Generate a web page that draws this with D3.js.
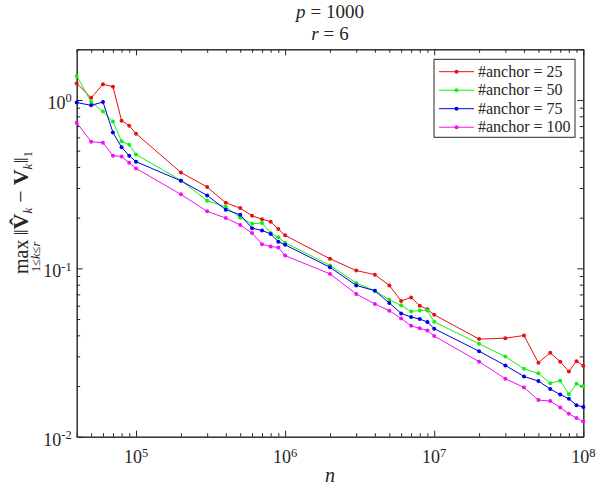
<!DOCTYPE html>
<html>
<head>
<meta charset="utf-8">
<script src="https://cdn.jsdelivr.net/npm/d3@7"></script>
<style>
body { margin: 0; background: #fff; }
svg text { font-family: "Liberation Serif", "Times New Roman", Tinos, "DejaVu Serif", serif; fill: #262626; }
.eje path, .eje line { stroke: #262626; stroke-width: 1; }
</style>
</head>
<body>
<div id="grafica"></div>
<script>
// n (tamaño de muestra)
var nValues = [4e4, 5e4, 6e4, 7e4, 8e4, 9e4,
	1e5, 2e5, 3e5, 4e5, 5e5, 6e5, 7e5, 8e5, 9e5,
	1e6, 2e6, 3e6, 4e6, 5e6, 6e6, 7e6, 8e6, 9e6,
	1e7, 2e7, 3e7, 4e7, 5e7, 6e7, 7e7, 8e7, 9e7, 1e8];

var anchor25 = [1.256, 1.03, 1.24, 1.20, 0.754, 0.704,
	0.631, 0.371, 0.304, 0.245, 0.228, 0.205, 0.196, 0.189, 0.171,
	0.157, 0.114, 0.097, 0.0917, 0.0792, 0.064, 0.0672, 0.060, 0.0571,
	0.053, 0.038, 0.0385, 0.0399, 0.0275, 0.0315, 0.0279, 0.0244, 0.0281, 0.0264];

var anchor50 = [1.39, 0.973, 0.853, 0.744, 0.568, 0.543,
	0.475, 0.333, 0.252, 0.232, 0.200, 0.184, 0.186, 0.162, 0.153,
	0.142, 0.104, 0.0818, 0.0736, 0.0651, 0.0603, 0.0555, 0.0562, 0.0562,
	0.0481, 0.0356, 0.0299, 0.0253, 0.0238, 0.0208, 0.0215, 0.0179, 0.0206, 0.0199];

var anchor75 = [0.966, 0.929, 0.973, 0.642, 0.523, 0.467,
	0.430, 0.331, 0.271, 0.223, 0.208, 0.173, 0.168, 0.160, 0.144,
	0.138, 0.1014, 0.0792, 0.0736, 0.0622, 0.054, 0.0514, 0.050, 0.048,
	0.0438, 0.0322, 0.0265, 0.0228, 0.0214, 0.0192, 0.0178, 0.0168, 0.0154, 0.015];

var anchor100 = [0.733, 0.565, 0.557, 0.467, 0.462, 0.424,
	0.392, 0.275, 0.218, 0.199, 0.181, 0.162, 0.139, 0.135, 0.133,
	0.119, 0.0927, 0.0704, 0.0614, 0.056, 0.0504, 0.0456, 0.044, 0.0428,
	0.0396, 0.0279, 0.0221, 0.0196, 0.0165, 0.0163, 0.0149, 0.0137, 0.0129, 0.0123];

var nombres = ['#anchor = 25', '#anchor = 50', '#anchor = 75', '#anchor = 100'];
var colores = ['#e81010', '#10f010', '#0000e8', '#f010f0'];
var xTickExp = [5, 6, 7, 8];
var yTickExp = [-2, -1, 0];

var series = [anchor25, anchor50, anchor75, anchor100].map(function(vals, i) {
	return {
		nombre: nombres[i],
		color: colores[i],
		puntos: vals.map(function(v, j) { return {n: nValues[j], v: v}; })
	};
});

var serif = '"Liberation Serif", "Times New Roman", Tinos, "DejaVu Serif", serif';

var m = {t: 49.3, r: 13.7, b: 51.3, l: 76.7},
	wC = 597,
	hC = 488,
	w = wC - (m.l + m.r),
	h = hC - (m.t + m.b);

var svg = d3.select('#grafica').append('svg')
	.attr('width', wC)
	.attr('height', hC)
	.attr('font-family', serif);

var g = svg.append('g').attr('transform', 'translate(' + m.l + ',' + m.t + ')');

var x = d3.scaleLog().domain([4e4, 1e8]).range([0, w]);
var y = d3.scaleLog().domain([0.01, 2]).range([h, 0]);

var esMayor = function(v) {
	var l = Math.log10(v);
	return Math.abs(l - Math.round(l)) < 1e-9;
};
var ticksX = x.ticks(),
	ticksY = y.ticks();

// ejes con marcas hacia dentro en los cuatro lados
var dibujaEje = function(axisFn, escala, ticks, tr) {
	[[ticks.filter(esMayor), -6], [ticks.filter(function(t) { return !esMayor(t); }), -3.5]]
		.forEach(function(par) {
			g.append('g').attr('class', 'eje').attr('transform', tr)
				.call(axisFn(escala).tickValues(par[0]).tickSizeInner(par[1]).tickSizeOuter(0).tickFormat(''));
		});
};
dibujaEje(d3.axisBottom, x, ticksX, 'translate(0,' + h + ')');
dibujaEje(d3.axisTop, x, ticksX, 'translate(0,0)');
dibujaEje(d3.axisLeft, y, ticksY, 'translate(0,0)');
dibujaEje(d3.axisRight, y, ticksY, 'translate(' + w + ',0)');

var texto = function(sel) {
	return sel.append('text').style('font-family', serif);
};

// etiquetas 10^k
xTickExp.forEach(function(e) {
	var t = texto(g)
		.attr('x', x(Math.pow(10, e)))
		.attr('y', h + 26.6)
		.attr('text-anchor', 'middle')
		.style('font-size', '18px');
	t.append('tspan').text('10');
	t.append('tspan').attr('dy', -6.5).style('font-size', '12.5px').text(e);
});
yTickExp.forEach(function(e) {
	var t = texto(g)
		.attr('x', -5)
		.attr('y', y(Math.pow(10, e)) + 9)
		.attr('text-anchor', 'end')
		.style('font-size', '18px');
	t.append('tspan').text('10');
	t.append('tspan').attr('dy', -6.5).style('font-size', '12.5px').text(e);
});

// líneas
var linea = d3.line()
	.x(function(d) { return x(d.n); })
	.y(function(d) { return y(d.v); });

var grupos = g.selectAll('.serie').data(series)
	.enter().append('g')
	.attr('class', 'serie');

grupos.append('path')
	.attr('fill', 'none')
	.attr('stroke', function(d) { return d.color; })
	.attr('stroke-width', 1)
	.attr('d', function(d) { return linea(d.puntos); });

grupos.each(function(s) {
	d3.select(this).selectAll('circle').data(s.puntos)
		.enter().append('circle')
		.attr('cx', function(d) { return x(d.n); })
		.attr('cy', function(d) { return y(d.v); })
		.attr('r', 2)
		.attr('fill', s.color);
});

// leyenda
var ley = g.append('g').attr('transform', 'translate(357.3,10)');
ley.append('rect')
	.attr('width', 141)
	.attr('height', 78)
	.attr('fill', '#fff')
	.attr('stroke', '#262626')
	.attr('stroke-width', 1);
var filas = ley.selectAll('.fila').data(series)
	.enter().append('g')
	.attr('class', 'fila')
	.attr('transform', function(d, i) { return 'translate(0,' + (12.4 + i * 18.5) + ')'; });
filas.append('line')
	.attr('x1', 5).attr('x2', 40)
	.attr('stroke', function(d) { return d.color; })
	.attr('stroke-width', 1);
filas.append('circle')
	.attr('cx', 22.5)
	.attr('r', 2)
	.attr('fill', function(d) { return d.color; });
filas.append('text')
	.style('font-family', serif)
	.attr('x', 44)
	.attr('y', 5.2)
	.style('font-size', '16px')
	.text(function(d) { return d.nombre; });

// títulos
var titulo = svg.append('g').attr('transform', 'translate(' + (m.l + w / 2) + ',0)');
var t1 = texto(titulo).attr('y', 17.5).attr('text-anchor', 'middle').style('font-size', '19px');
t1.append('tspan').style('font-style', 'italic').text('p');
t1.append('tspan').attr('dx', 5).text('=');
t1.append('tspan').attr('dx', 5).text('1000');
var t2 = texto(titulo).attr('y', 40).attr('text-anchor', 'middle').style('font-size', '19px');
t2.append('tspan').style('font-style', 'italic').text('r');
t2.append('tspan').attr('dx', 5).text('=');
t2.append('tspan').attr('dx', 5).text('6');

texto(svg)
	.attr('x', m.l + w / 2)
	.attr('y', 482)
	.attr('text-anchor', 'middle')
	.style('font-size', '20px')
	.style('font-style', 'italic')
	.text('n');

// etiqueta del eje y
var ey = svg.append('g').attr('transform', 'translate(28,274) rotate(-90)');
var tMax = texto(ey).attr('x', 0).attr('y', 0).style('font-size', '20px').text('max');
var anchoMax = tMax.node().getComputedTextLength();
var sub = texto(ey)
	.attr('x', anchoMax / 2)
	.attr('y', 11.5)
	.attr('text-anchor', 'middle')
	.style('font-size', '12.5px');
sub.append('tspan').text('1\u2264');
sub.append('tspan').style('font-style', 'italic').text('k');
sub.append('tspan').text('\u2264');
sub.append('tspan').style('font-style', 'italic').text('r');

var norma = texto(ey).attr('x', anchoMax + 4).attr('y', 0).style('font-size', '22px');
norma.append('tspan').text('\u2016');
norma.append('tspan').style('font-weight', 'bold').text('V\u0302');
norma.append('tspan').attr('dy', 4).style('font-size', '13px').style('font-style', 'italic').text('k');
norma.append('tspan').attr('dy', -4).attr('dx', 5).text('\u2212');
norma.append('tspan').attr('dx', 5).style('font-weight', 'bold').text('V');
norma.append('tspan').attr('dy', 4).style('font-size', '13px').style('font-style', 'italic').text('k');
norma.append('tspan').attr('dy', -4).text('\u2016');
norma.append('tspan').attr('dy', 4).style('font-size', '13px').text('1');
</script>
</body>
</html>
